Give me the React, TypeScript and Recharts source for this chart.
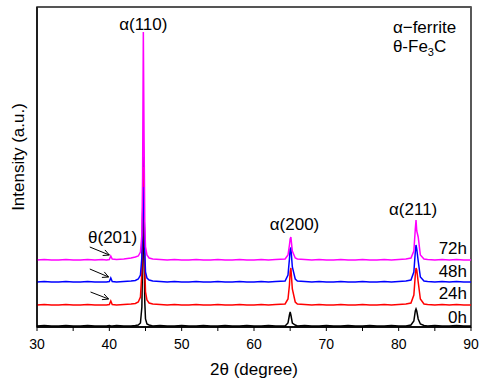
import {
  LineChart,
  Line,
  XAxis,
  YAxis,
  ReferenceArea,
  ReferenceLine,
  ReferenceDot,
  Label,
} from "recharts";

// 2theta positions (degree)
const twoTheta = [
  30, 31, 32, 33, 34, 35, 36, 37, 38, 39,
  39.6, 40.0, 40.2, 40.4, 41, 42, 43, 43.6,
  44.0, 44.3, 44.5, 44.6, 44.7, 44.8, 44.9, 45.0, 45.2, 45.5,
  46, 47, 48, 49, 50, 51, 52, 53, 54, 55, 56, 57, 58, 59, 60, 61, 62, 63,
  64.3, 64.7, 64.9, 65.0, 65.1, 65.3, 65.7,
  66, 67, 68, 69, 70, 71, 72, 73, 74, 75, 76, 77, 78, 79, 80, 81,
  81.7, 82.1, 82.3, 82.4, 82.5, 82.7, 83.0, 83.5,
  84, 85, 86, 87, 88, 89, 90,
];

// intensity (a.u., stacked with offsets as in the figure)
const h0 = [
  1, 1.5, 1, 1, 1.5, 1, 1, 1.5, 1, 1,
  1, 1.5, 1, 1, 1.5, 1, 1, 1.5,
  2, 4, 20, 70, 180, 80, 25, 8, 3, 2,
  1, 1.5, 1, 1, 1.5, 1, 1, 1.5, 1, 1, 1.5, 1, 1, 1.5, 1, 1, 1.5, 1,
  1, 4, 12, 15, 12, 4, 2,
  1, 1.5, 1, 1, 1.5, 1, 1, 1.5, 1, 1, 1.5, 1, 1, 1.5, 1, 1,
  2, 6, 16, 18, 16, 8, 3, 1.5,
  1, 1.5, 1, 1, 1.5, 1, 1,
];

const h24 = [
  22, 22.5, 22, 22, 22.5, 22, 22, 22.5, 22, 22,
  22, 22.5, 26, 22.5, 22, 22.5, 23, 23.5,
  25, 30, 55, 110, 160, 120, 60, 35, 27, 24,
  23, 22.5, 22, 22.5, 22, 22, 22.5, 22, 22, 22.5, 22, 22, 22.5, 22, 22, 22.5, 22, 22.5,
  23, 28, 42, 55, 59, 38, 25,
  23, 22.5, 22, 22.5, 22, 22, 22.5, 22, 22, 22.5, 22, 22, 22.5, 22, 22.5, 23,
  24, 32, 52, 59, 57, 45, 28, 23,
  22.5, 22, 22.5, 22, 22.5, 22, 22,
];

const h48 = [
  45, 45.5, 45, 45, 45.5, 45, 45, 45.5, 45, 45,
  45, 45.5, 49, 45.5, 45, 45.5, 46, 46.5,
  48, 52, 70, 110, 140, 120, 75, 55, 49, 47,
  46, 45.5, 45, 45.5, 45, 45, 45.5, 45, 45, 45.5, 45, 45, 45.5, 45, 45, 45.5, 45, 45.5,
  46, 52, 68, 78, 79, 60, 48,
  46, 45.5, 45, 45.5, 45, 45, 45.5, 45, 45, 45.5, 45, 45, 45.5, 45, 45.5, 46,
  47, 55, 75, 82, 78, 66, 50, 46,
  45.5, 45, 45.5, 45, 45.5, 45, 45,
];

const h72 = [
  67, 67.5, 67, 67, 67.5, 67, 67, 67.5, 67, 67.5,
  67, 67.5, 71, 68, 67.5, 68, 69, 70,
  71, 75, 92, 150, 295, 190, 105, 80, 72, 69,
  68, 67.5, 67, 67.5, 67, 67, 67.5, 67, 67, 67.5, 67, 67, 67.5, 67, 67, 67.5, 67, 67.5,
  68, 72, 82, 88, 90, 76, 69,
  68, 67.5, 67, 67.5, 67, 67, 67.5, 67, 67, 67.5, 67, 67, 67.5, 67, 67.5, 68,
  69, 76, 98, 107, 96, 90, 72, 68,
  67.5, 67, 67.5, 67, 67.5, 67, 67,
];

const xTicks = [30, 35, 40, 45, 50, 55, 60, 65, 70, 75, 80, 85, 90];

// peak labels: [text, 2theta, intensity]
const peakLabels: [string, number, number][] = [
  ["α(110)", 44.7, 297],
  ["θ(201)", 40.45, 84],
  ["α(200)", 65.6, 97],
  ["α(211)", 82.0, 112],
];

// time labels at right end: [text, intensity]
const timeLabels: [string, number][] = [
  ["72h", 73],
  ["48h", 50],
  ["24h", 28],
  ["0h", 4],
];

// arrows pointing at theta(201): [from x, from y, to x, to y]
const arrows: [number, number, number, number][] = [
  [37.3, 80, 40.0, 72],
  [37.3, 58, 39.9, 50],
  [37.4, 35, 39.9, 28],
];

const data = twoTheta.map((x, i) => ({
  x,
  h0: h0[i],
  h24: h24[i],
  h48: h48[i],
  h72: h72[i],
}));

const textAt = (text: string, anchor: string) => (props: any) => (
  <text
    x={props.cx}
    y={props.cy}
    textAnchor={anchor}
    fontSize={17}
    fill="#000"
  >
    {text}
  </text>
);

const arrowShape = (props: any) => {
  const { x1, y1, x2, y2 } = props;
  const a = Math.atan2(y2 - y1, x2 - x1);
  const len = 6;
  const w = 3;
  const bx = x2 - len * Math.cos(a);
  const by = y2 - len * Math.sin(a);
  const px = -Math.sin(a) * w;
  const py = Math.cos(a) * w;
  return (
    <g>
      <line x1={x1} y1={y1} x2={x2} y2={y2} stroke="#000" strokeWidth={1} />
      <polyline
        points={`${bx + px},${by + py} ${x2},${y2} ${bx - px},${by - py}`}
        fill="none"
        stroke="#000"
        strokeWidth={1}
      />
    </g>
  );
};

export default function App() {
  return (
    <div
      style={{
        position: "absolute",
        left: 0,
        top: 0,
        fontFamily: "'Liberation Sans', Arial, sans-serif",
        background: "#fff",
      }}
    >
      <LineChart
        width={491}
        height={387}
        data={data}
        margin={{ top: 7, right: 20, bottom: 0, left: 7 }}
      >
        <XAxis
          dataKey="x"
          type="number"
          domain={[30, 90]}
          ticks={xTicks}
          tickFormatter={(v) => (v % 10 === 0 ? String(v) : "")}
          tick={{ fontSize: 14, fill: "#000" }}
          tickSize={4}
          tickMargin={8}
          tickLine={{ stroke: "#000" }}
          axisLine={{ stroke: "#000", strokeWidth: 1.3 }}
          height={60}
        >
          <Label
            value="2θ (degree)"
            position="insideBottom"
            offset={12}
            style={{ fontSize: 17, fill: "#000" }}
          />
        </XAxis>
        <YAxis
          type="number"
          domain={[0, 320]}
          tick={false}
          tickLine={false}
          axisLine={{ stroke: "#000", strokeWidth: 1.3 }}
          width={30}
        >
          <Label
            content={(p: any) => {
              const vb = p.viewBox;
              const cx = vb.x + 11;
              const cy = vb.y + vb.height / 2 - 10;
              return (
                <text
                  x={cx}
                  y={cy}
                  transform={`rotate(-90 ${cx} ${cy})`}
                  textAnchor="middle"
                  dominantBaseline="central"
                  fontSize={17}
                  fill="#000"
                >
                  Intensity (a.u.)
                </text>
              );
            }}
          />
        </YAxis>

        <ReferenceArea
          x1={30}
          x2={90}
          y1={0}
          y2={320}
          fill="none"
          stroke="#000"
          strokeWidth={1.3}
        />
        <ReferenceLine y={320} stroke="#555" strokeWidth={2.2} />

        <Line type="linear" dataKey="h0" stroke="#000000" strokeWidth={1.5} dot={false} isAnimationActive={false} />
        <Line type="linear" dataKey="h24" stroke="#ff0000" strokeWidth={1.5} dot={false} isAnimationActive={false} />
        <Line type="linear" dataKey="h48" stroke="#0000ff" strokeWidth={1.5} dot={false} isAnimationActive={false} />
        <Line type="linear" dataKey="h72" stroke="#ff00ff" strokeWidth={1.5} dot={false} isAnimationActive={false} />

        {arrows.map(([xa, ya, xb, yb], i) => (
          <ReferenceLine
            key={"arr" + i}
            segment={[
              { x: xa, y: ya },
              { x: xb, y: yb },
            ]}
            shape={arrowShape}
          />
        ))}

        {peakLabels.map(([t, x, y]) => (
          <ReferenceDot key={t} x={x} y={y} r={0} shape={textAt(t, "middle")} />
        ))}
        {timeLabels.map(([t, y]) => (
          <ReferenceDot key={t} x={89.45} y={y} r={0} shape={textAt(t, "end")} />
        ))}

        <ReferenceDot x={79.2} y={294} r={0} shape={textAt("α−ferrite", "start")} />
        <ReferenceDot
          x={79.2}
          y={275}
          r={0}
          shape={(p: any) => (
            <text x={p.cx} y={p.cy} fontSize={17} fill="#000">
              <tspan>θ-Fe</tspan>
              <tspan dy={4} fontSize={11}>3</tspan>
              <tspan dy={-4}>C</tspan>
            </text>
          )}
        />
      </LineChart>
    </div>
  );
}
